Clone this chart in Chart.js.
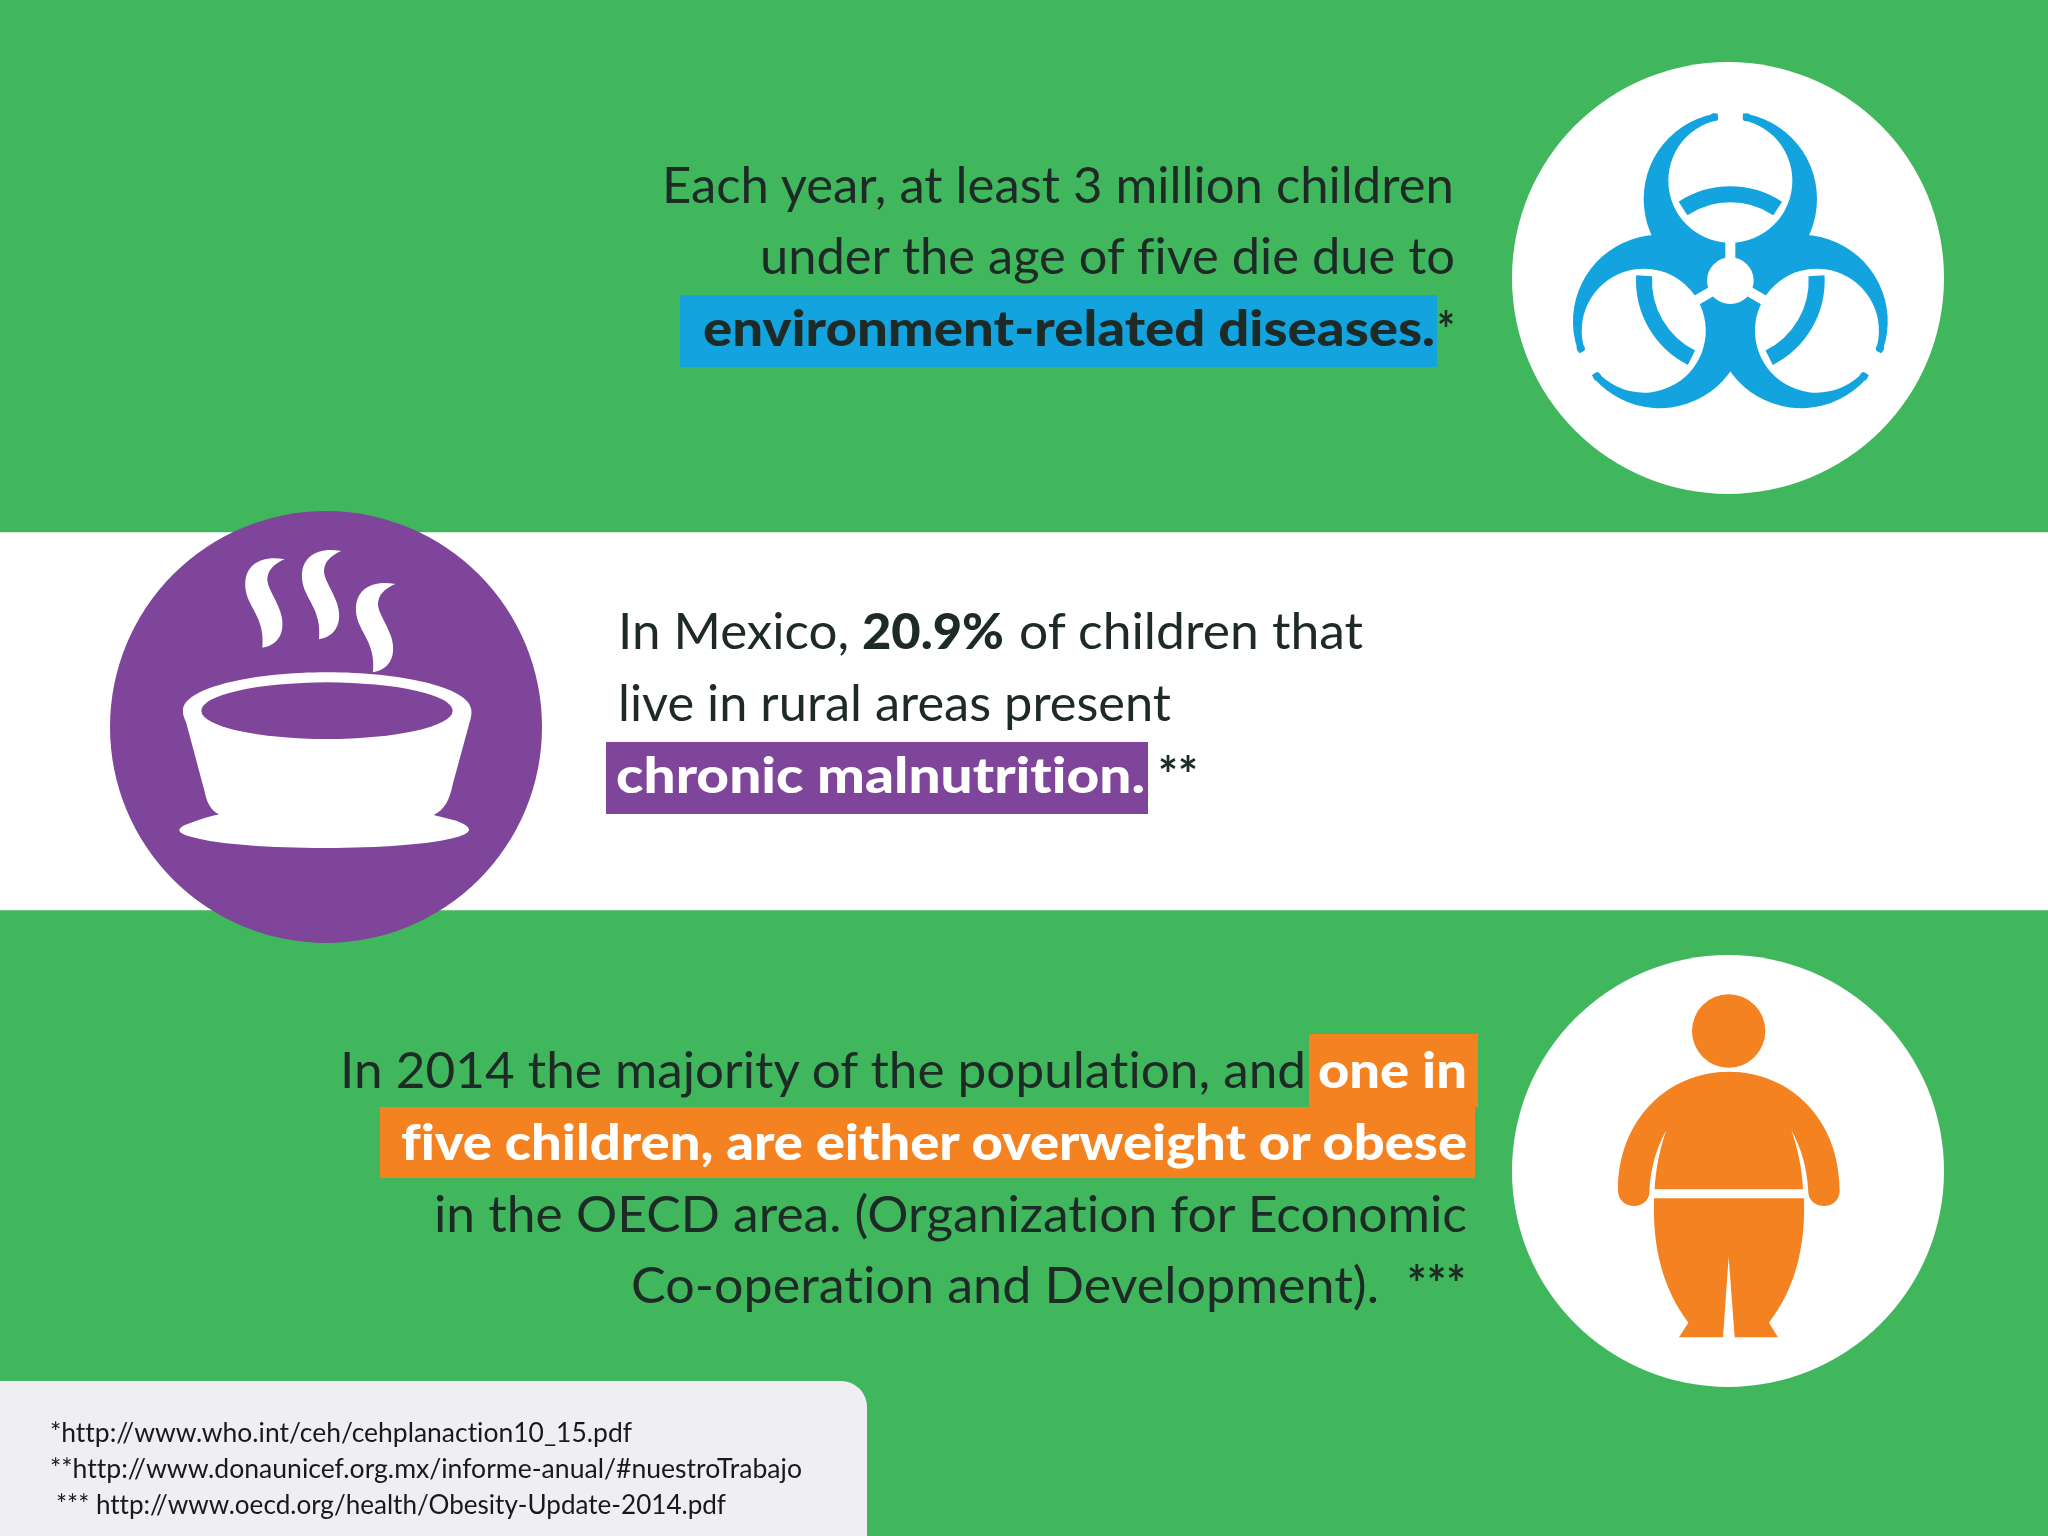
<!DOCTYPE html>
<html>
<head>
<meta charset="utf-8">
<title>Children and the environment</title>
<script src="https://cdn.jsdelivr.net/npm/chart.js@4"></script>
<style>
  html,body{margin:0;padding:0;background:#fff}
  #page{position:relative;width:2048px;height:1536px;overflow:hidden}
  #page canvas,#page svg{position:absolute;left:0;top:0}
  text{font-family:Lato,"Open Sans",sans-serif;white-space:pre;font-variant-ligatures:none}
</style>
</head>
<body>
<div id="page">
  <canvas id="sheet" width="2048" height="1536"></canvas>
  <svg id="copy" width="2048" height="1536" viewBox="0 0 2048 1536" xmlns="http://www.w3.org/2000/svg"></svg>
</div>
<script>
// bands of the page, top to bottom
const bandNames = ['environment', 'nutrition', 'obesity'];
const bandHeights = [532, 378, 626];
const bandColors = ['#40b75d', '#ffffff', '#40b75d'];

// round badges behind the icons
const badgeNames = ['biohazard', 'soup', 'figure'];
const badgeX = [1728, 326, 1728];
const badgeY = [278, 727, 1171];
const badgeRadius = [216, 216, 216];
const badgeColors = ['#ffffff', '#7e459a', '#ffffff'];

const BLUE = '#13a3de', ORANGE = '#f58220', INK = '#1e2a26';

// highlight boxes behind the key phrases: x, y, w, h, colour
const boxes = [
  [680, 295, 757, 72, BLUE],
  [606, 742, 542, 72, '#7e459a'],
  [1309, 1034, 169, 73, ORANGE],
  [380, 1107, 1095, 71, ORANGE]
];

// text runs: text, left, right, baseline, weight, colour
const bodyRuns = [
  ['Each year, at least 3 million children', 662, 1454, 203, 400, INK],
  ['under the age of five die due to', 760, 1455, 274, 400, INK],
  ['environment-related diseases.', 703, 1435, 346, 900, INK],
  ['*', 1437, 1455, 348, 700, INK],
  ['In Mexico,', 618, 849, 649, 400, INK],
  ['20.9%', 862, 1004, 649, 900, INK],
  ['of children that', 1019, 1363, 649, 400, INK],
  ['live in rural areas present', 618, 1171, 721, 400, INK],
  ['chronic malnutrition.', 616, 1145, 793, 900, '#ffffff'],
  ['**', 1158, 1198, 793, 700, INK],
  ['In 2014 the majority of the population, and', 340, 1306, 1088, 400, INK],
  ['one in', 1318, 1467, 1088, 900, '#ffffff'],
  ['five children, are either overweight or obese', 401, 1467, 1160, 900, '#ffffff'],
  ['in the OECD area. (Organization for Economic', 434, 1467, 1232, 400, INK],
  ['Co-operation and Development).', 631, 1379, 1303, 400, INK],
  ['***', 1407, 1466, 1302, 700, INK]
];
const footRuns = [
  ['*http://www.who.int/ceh/cehplanaction10_15.pdf', 50, 632, 1442],
  ['**http://www.donaunicef.org.mx/informe-anual/#nuestroTrabajo', 50, 802, 1478],
  ['*** http://www.oecd.org/health/Obesity-Update-2014.pdf', 56, 726, 1514]
];

// icons are drawn in the 3x crop units they were traced in
function drawBiohazard(ctx) {
  const c = [752, 725];
  const turn = fn => [0, 120, 240].forEach(a => {
    ctx.save();
    ctx.translate(c[0], c[1]);
    ctx.rotate(a * Math.PI / 180);
    fn();
    ctx.restore();
  });
  const disc = (x, y, r, col) => {
    ctx.fillStyle = col;
    ctx.beginPath();
    ctx.arc(x, y, r, 0, Math.PI * 2);
    ctx.fill();
  };
  turn(() => disc(0, -245, 260, BLUE));
  turn(() => disc(0, -300, 186, '#fff'));
  turn(() => {
    ctx.fillStyle = '#fff';
    ctx.fillRect(-15, -130, 30, 130); // slit to the hub
    ctx.fillRect(-38, -530, 76, 75);  // gap in the crescent
    disc(-49, -490, 12, BLUE);
    disc(49, -490, 12, BLUE);
  });
  disc(c[0], c[1], 70, '#fff');
  turn(() => {
    ctx.strokeStyle = BLUE;
    ctx.lineWidth = 48;
    ctx.lineCap = 'butt';
    ctx.beginPath();
    ctx.arc(0, 0, 259, -Math.PI / 2 - 0.58, -Math.PI / 2 + 0.58);
    ctx.stroke();
  });
}

function drawSoup(ctx) {
  ctx.fillStyle = '#fff';
  const wisp = 'M585 178C520 165 463 190 467 260C470 320 528 350 518 443C570 435 590 390 572 335C555 285 525 255 535 225C540 205 560 188 585 178Z';
  [[0, 0], [170, -25], [332, 74]].forEach(o => {
    ctx.save();
    ctx.translate(o[0], o[1]);
    ctx.fill(new Path2D(wisp));
    ctx.restore();
  });
  ctx.fill(new Path2D('M280 630C285 560 500 517 712 517C925 517 1140 560 1145 630C1147 650 1140 665 1135 685L1090 850C1080 900 1065 930 1032 945L1100 962C1160 985 1140 1000 1100 1012C950 1055 460 1055 310 1012C260 1000 255 985 300 970C330 958 360 950 388 943C360 930 350 900 345 875L290 670C283 650 279 645 280 630Z'));
  ctx.fillStyle = '#7e459a';
  ctx.beginPath();
  ctx.ellipse(712, 632, 377, 85, 0, 0, Math.PI * 2);
  ctx.fill();
}

function drawFigure(ctx) {
  ctx.fillStyle = ORANGE;
  ctx.beginPath();
  ctx.arc(684, 243, 110, 0, Math.PI * 2);
  ctx.fill();
  ctx.fill(new Path2D('M685 365C500 365 352 510 352 722C352 750 375 768 400 768C425 768 445 750 446 728C449 650 470 590 497 540C476 600 465 660 462 718L907 718C904 660 893 600 872 540C899 590 920 650 923 728C924 750 945 768 970 768C995 768 1017 750 1017 722C1017 510 870 365 685 365Z'));
  ctx.fill(new Path2D('M460 745C455 900 490 1020 563 1118L535 1162L667 1162L684 920L702 1162L832 1162L805 1118C880 1020 915 900 910 745Z'));
}

const icons = [
  { draw: drawBiohazard, cx: 745, cy: 717 },
  { draw: drawSoup, cx: 709, cy: 681 },
  { draw: drawFigure, cx: 682, cy: 663 }
];

// icons sit on the badge points, so they follow the chart scales
const iconPlugin = {
  id: 'icons',
  afterDatasetsDraw(chart) {
    const ctx = chart.ctx;
    icons.forEach((ic, i) => {
      ctx.save();
      ctx.translate(chart.scales.x.getPixelForValue(badgeX[i]), chart.scales.y.getPixelForValue(badgeY[i]));
      ctx.scale(1 / 3, 1 / 3);
      ctx.translate(-ic.cx, -ic.cy);
      ic.draw(ctx);
      ctx.restore();
    });
  }
};

new Chart(document.getElementById('sheet'), {
  data: {
    datasets: [
      {
        type: 'scatter',
        label: 'badges',
        order: 1,
        stack: 'badges',
        clip: false,
        data: badgeX.map((x, i) => ({ x: x, y: badgeY[i] })),
        pointRadius: badgeRadius,
        pointHoverRadius: badgeRadius,
        pointBackgroundColor: badgeColors,
        pointBorderWidth: 0
      }
    ].concat(bandNames.map((n, i) => ({
      type: 'bar',
      label: n,
      order: 2,
      stack: 'bands',
      data: [{ x: 1024, y: bandHeights[i] }],
      backgroundColor: bandColors[i],
      borderWidth: 0,
      barThickness: 2048
    })))
  },
  options: {
    responsive: false,
    animation: false,
    events: [],
    layout: { padding: 0, autoPadding: false },
    plugins: { legend: { display: false }, tooltip: { enabled: false } },
    scales: {
      x: { type: 'linear', offset: false, display: false, min: 0, max: 2048 },
      y: { type: 'linear', display: false, stacked: true, reverse: true, min: 0, max: 1536 }
    }
  },
  plugins: [iconPlugin]
});

// copy layer
const svg = document.getElementById('copy');
const NS = 'http://www.w3.org/2000/svg';
function add(tag, attrs, txt) {
  const n = document.createElementNS(NS, tag);
  Object.keys(attrs).forEach(k => n.setAttribute(k, attrs[k]));
  if (txt) n.textContent = txt;
  svg.appendChild(n);
}
boxes.forEach(b => add('rect', { x: b[0], y: b[1], width: b[2], height: b[3], fill: b[4] }));
add('rect', { x: -40, y: 1381, width: 907, height: 220, rx: 26, fill: '#efeef2' });
bodyRuns.forEach(r => add('text', {
  x: r[1], y: r[3], 'font-size': 50, 'font-weight': r[4], fill: r[5],
  textLength: r[2] - r[1], lengthAdjust: 'spacingAndGlyphs'
}, r[0]));
footRuns.forEach(r => add('text', {
  x: r[1], y: r[3], 'font-size': 27, fill: '#17191c',
  textLength: r[2] - r[1], lengthAdjust: 'spacingAndGlyphs'
}, r[0]));
</script>
</body>
</html>
